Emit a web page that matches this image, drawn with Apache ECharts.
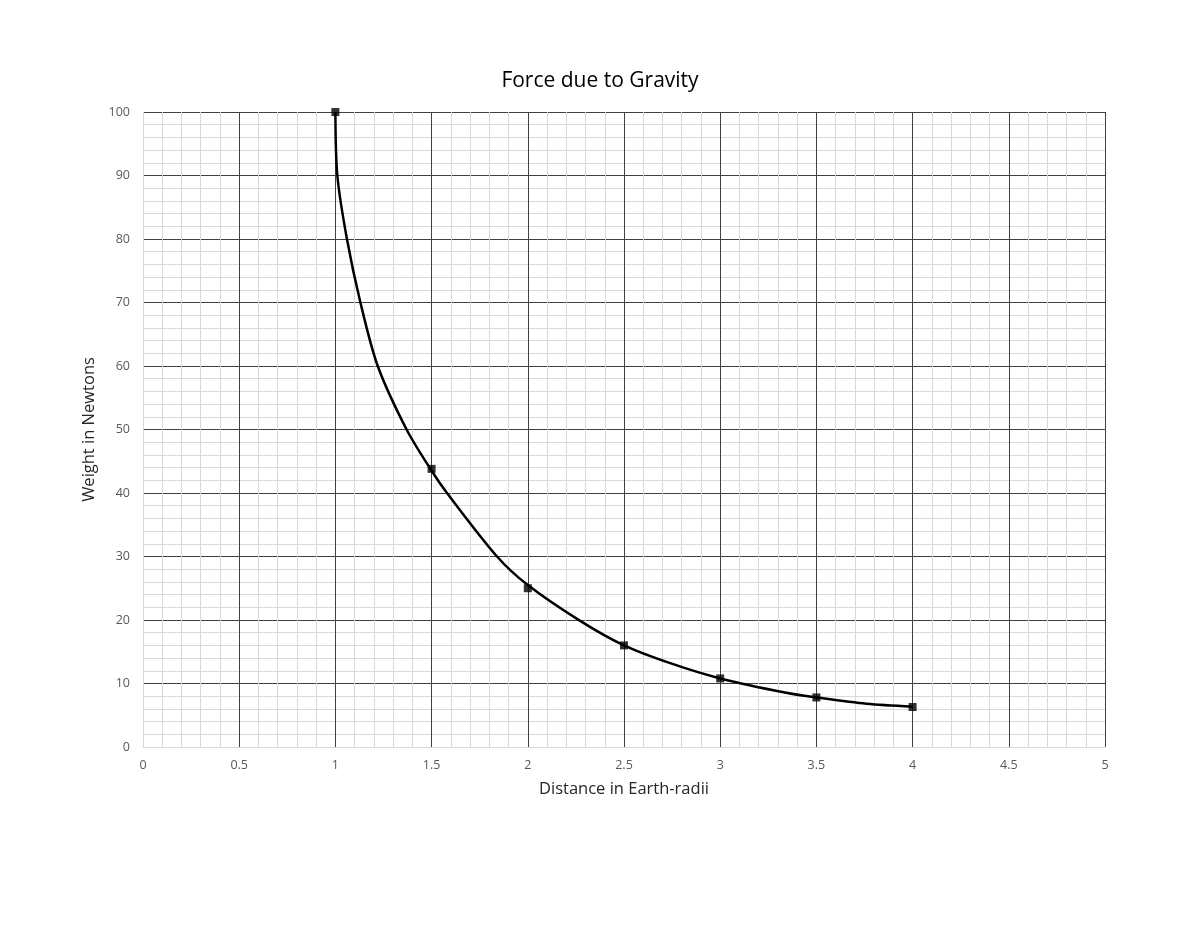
<!DOCTYPE html>
<html>
<head>
    <meta charset="utf-8">
    <title>Force due to Gravity</title>
    <script src="https://cdn.jsdelivr.net/npm/echarts@6/dist/echarts.min.js"></script>
    <style>
        html, body { margin: 0; padding: 0; background: #fff; }
        #chart { width: 1200px; height: 927px; }
    </style>
</head>
<body>
    <div id="chart"></div>

    <script>
    // measured points (markers)
    const distances = [1, 1.5, 2, 2.5, 3, 3.5, 4];
    const weights = [100, 43.8, 25, 16, 10.8, 7.8, 6.3];

    // curve
    const curveX = [1.0, 1.01, 1.06, 1.13, 1.22, 1.37, 1.5, 1.58, 1.84, 2.0, 2.27, 2.5, 2.74, 3.0, 3.35, 3.5, 3.76, 4.0];
    const curveY = [100, 90, 80, 70, 60, 50, 43.5, 40, 30, 25.5, 19.9, 16, 13.2, 10.8, 8.5, 7.8, 6.8, 6.35];

    const markerData = distances.map(function (d, i) { return [d, weights[i]]; });
    const curveData = curveX.map(function (d, i) { return [d, curveY[i]]; });

    const labelStyle = { color: '#595959', fontSize: 12.5, fontFamily: 'Open Sans' };
    const nameStyle = { fontFamily: 'Open Sans', fontSize: 16.5, color: '#262626' };

    const option = {
        animation: false,
        title: {
            text: 'Force due to Gravity',
            left: 'center',
            top: 66,
            textStyle: { fontFamily: 'Open Sans', fontSize: 21, fontWeight: 'normal', color: '#000' }
        },
        grid: { left: 143, right: 95, top: 112, bottom: 180 },
        xAxis: {
            type: 'value',
            min: 0,
            max: 5,
            interval: 0.5,
            name: 'Distance in Earth-radii',
            nameLocation: 'middle',
            nameGap: 34,
            nameTextStyle: nameStyle,
            axisLine: { show: true, lineStyle: { color: '#d9d9d9', width: 1 } },
            axisTick: { show: false },
            axisLabel: Object.assign({ margin: 12 }, labelStyle),
            splitLine: { show: true, showMinLine: false, lineStyle: { color: '#404040', width: 1 } },
            minorTick: { show: false, splitNumber: 5 },
            minorSplitLine: { show: true, lineStyle: { color: '#d9d9d9', width: 1 } }
        },
        yAxis: {
            type: 'value',
            min: 0,
            max: 100,
            interval: 10,
            name: 'Weight in Newtons',
            nameLocation: 'middle',
            nameGap: 43,
            nameTextStyle: nameStyle,
            axisLine: { show: true, lineStyle: { color: '#d9d9d9', width: 1 } },
            axisTick: { show: false },
            axisLabel: Object.assign({ margin: 13 }, labelStyle),
            splitLine: { show: true, showMinLine: false, lineStyle: { color: '#404040', width: 1 } },
            minorTick: { show: false, splitNumber: 5 },
            minorSplitLine: { show: true, lineStyle: { color: '#d9d9d9', width: 1 } }
        },
        series: [
            {
                type: 'line',
                data: curveData,
                smooth: 0.3,
                showSymbol: false,
                symbol: 'none',
                lineStyle: { color: '#000', width: 2.5 },
                z: 3
            },
            {
                type: 'scatter',
                data: markerData,
                symbol: 'rect',
                symbolSize: 8,
                itemStyle: { color: '#000' },
                z: 4
            }
        ]
    };

    const chart = echarts.init(document.getElementById('chart'));
    chart.setOption(option);
    </script>
</body>
</html>
